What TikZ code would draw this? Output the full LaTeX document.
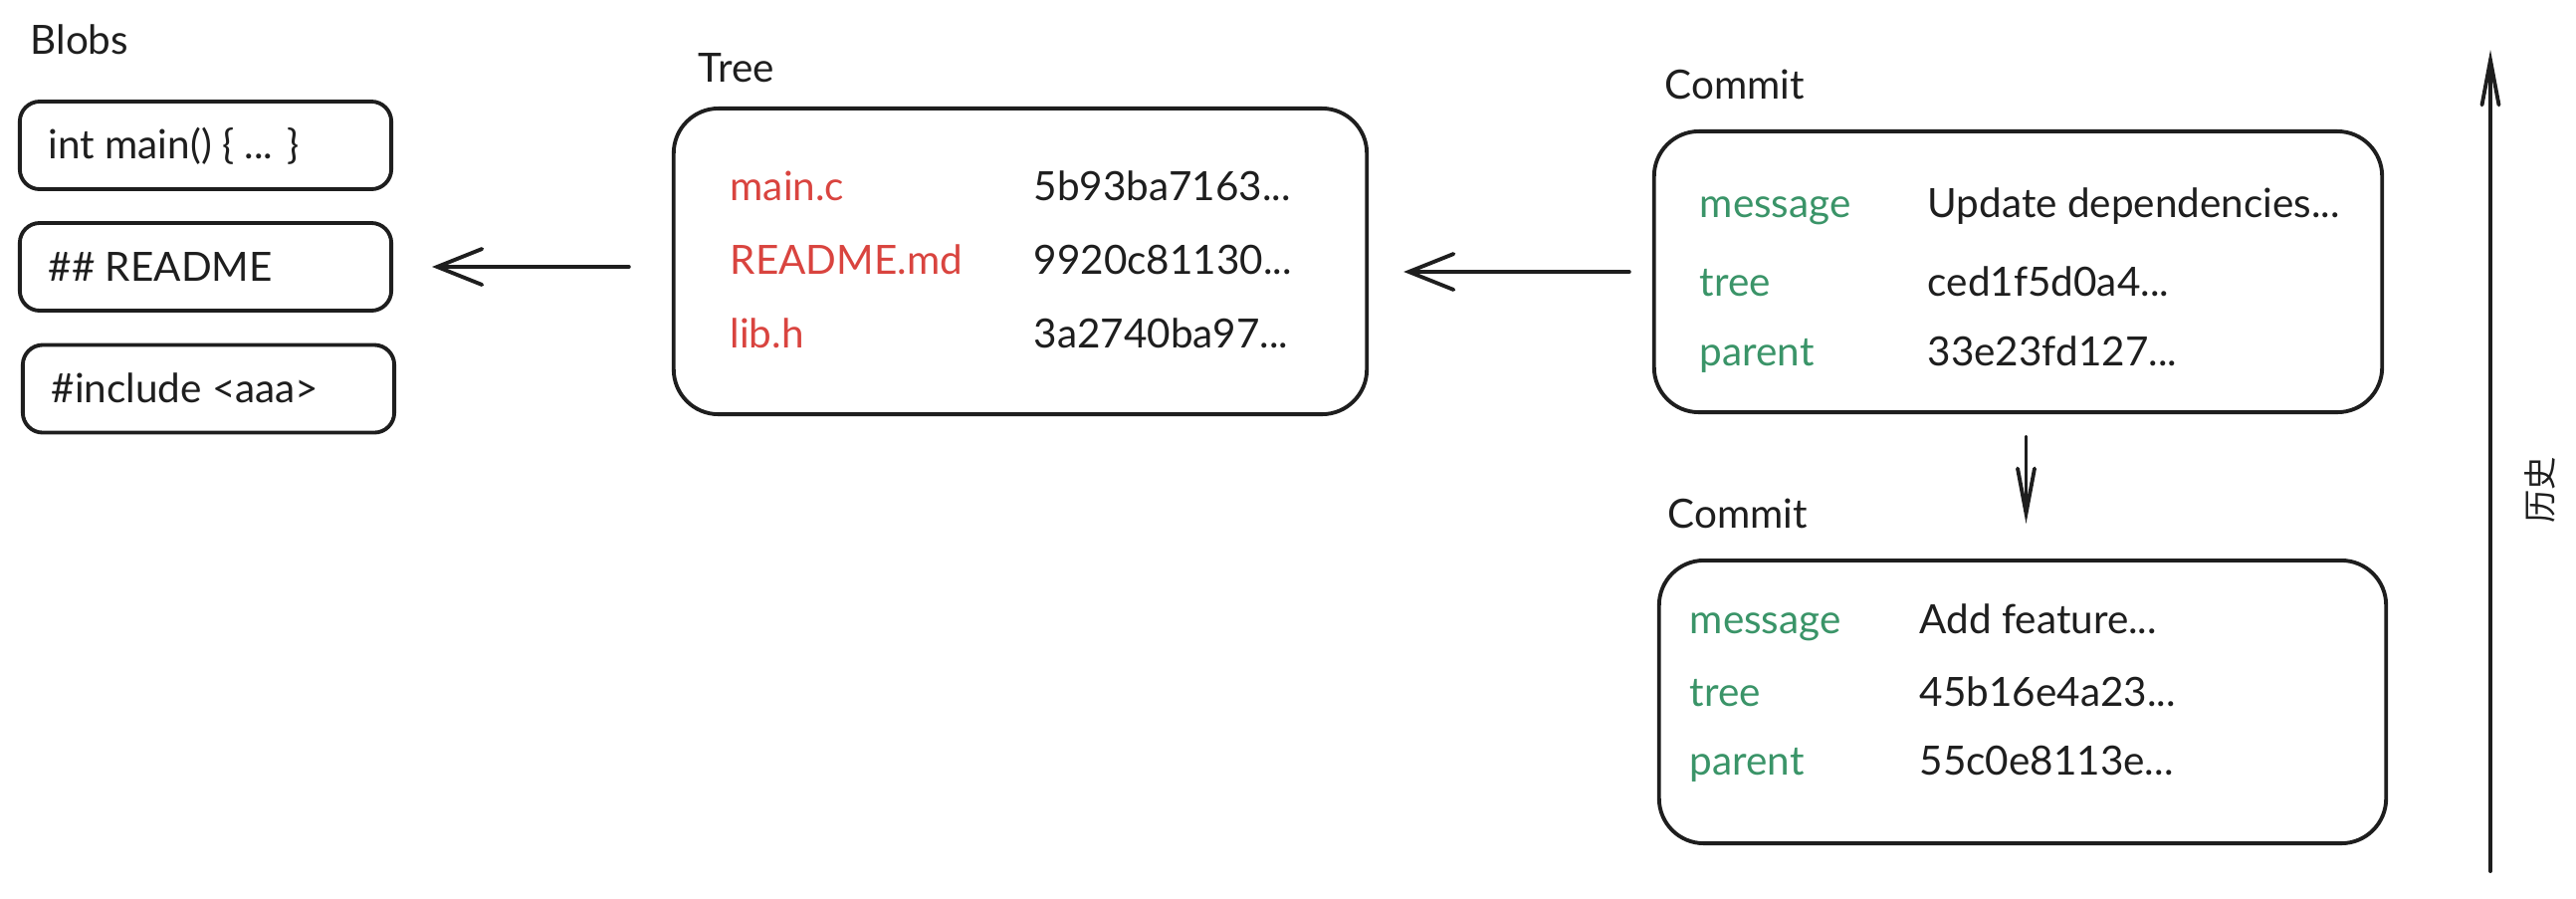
\documentclass[tikz,border=0pt]{standalone}
\usepackage{fontspec}
\setmainfont{Lato}
\newfontfamily\cjkfont{Noto Sans CJK SC}
\usetikzlibrary{arrows.meta}
\definecolor{ink}{HTML}{1E1E1E}
\definecolor{fred}{HTML}{D9443F}
\definecolor{fgreen}{HTML}{3A9468}
\begin{document}
\begin{tikzpicture}[x=0.01cm,y=-0.01cm,
  txt/.style={font=\fontsize{11.5}{13}\selectfont, text=ink, inner sep=0, anchor=base west},
  key/.style={txt, text=fgreen},
  fname/.style={txt, text=fred},
  blob/.style={draw=ink, line width=1.1pt, rounded corners=0.2cm, inner sep=0, minimum width=3.73cm, minimum height=0.88cm},
  bigbox/.style={draw=ink, line width=1.1pt, rounded corners=0.45cm, inner sep=0},
  arr/.style={draw=ink, line width=1.1pt, line cap=round, -{Straight Barb[length=0.45cm,width=0.36cm,line cap=round]}},
  varr/.style={draw=ink, line width=1.1pt, line cap=round, -{Straight Barb[length=0.45cm,width=0.17cm,line cap=round]}}
]
\useasboundingbox (0,0) rectangle (2588,902);

% Blobs
\node[txt] (blobs) at (30,54) {Blobs};
\node[blob] (b1) at (206.5,146) {};
\node[blob] (b2) at (206.5,268) {};
\node[blob] (b3) at (209.5,390.5) {};
\node[txt] (b1t) at (48,159) {int main() \{ ... \}};
\node[txt] (b2t) at (48,282) {\#\# README};
\node[txt] (b3t) at (51,404) {\#include <aaa>};

% Tree
\node[txt] (treet) at (701,82) {Tree};
\node[bigbox, minimum width=6.96cm, minimum height=3.07cm] (tree) at (1025,262.5) {};
\node[fname] (f1) at (733,201) {main.c};
\node[fname] (f2) at (733,275) {README.md};
\node[fname] (f3) at (733,349) {lib.h};
\node[txt] (h1) at (1038,201) {5b93ba7163...};
\node[txt] (h2) at (1038,275) {9920c81130...};
\node[txt] (h3) at (1038,349) {3a2740ba97...};

% Commit 1
\node[txt] (c1t) at (1672,99) {Commit};
\node[bigbox, minimum width=7.31cm, minimum height=2.82cm] (c1) at (2027.5,273) {};
\node[key] (c1k1) at (1707,218) {message};
\node[key] (c1k2) at (1707,297) {tree};
\node[key] (c1k3) at (1707,367) {parent};
\node[txt] (c1v1) at (1936,218) {Update dependencies...};
\node[txt] (c1v2) at (1936,297) {ced1f5d0a4...};
\node[txt] (c1v3) at (1936,367) {33e23fd127...};

% Commit 2
\node[txt] (c2t) at (1675,530) {Commit};
\node[bigbox, minimum width=7.30cm, minimum height=2.84cm] (c2) at (2032,705) {};
\node[key] (c2k1) at (1697,636) {message};
\node[key] (c2k2) at (1697,709) {tree};
\node[key] (c2k3) at (1697,778) {parent};
\node[txt] (c2v1) at (1928,636) {Add feature...};
\node[txt] (c2v2) at (1928,709) {45b16e4a23...};
\node[txt] (c2v3) at (1928,778) {55c0e8113e...};

% Connectors
\draw[arr, shorten <=0.43cm, shorten >=0.39cm] (b2.east -| tree.west) -- (b2.east);
\draw[arr, shorten <=0.23cm, shorten >=0.35cm] (c1.west) -- (c1.west -| tree.east);
\draw[varr, shorten <=0.23cm, shorten >=0.35cm] ([xshift=0.08cm]c1.south) -- ([xshift=0.08cm]c1.south |- c2.north);

% History axis
\coordinate (hb) at (2502,875);
\coordinate (ht) at (2502,50);
\draw[varr] (hb) -- (ht);
\node[font=\cjkfont\fontsize{9.5}{11}\selectfont, text=ink, rotate=90, inner sep=0] (hist) at (2552,492) {历史};
\end{tikzpicture}
\end{document}
